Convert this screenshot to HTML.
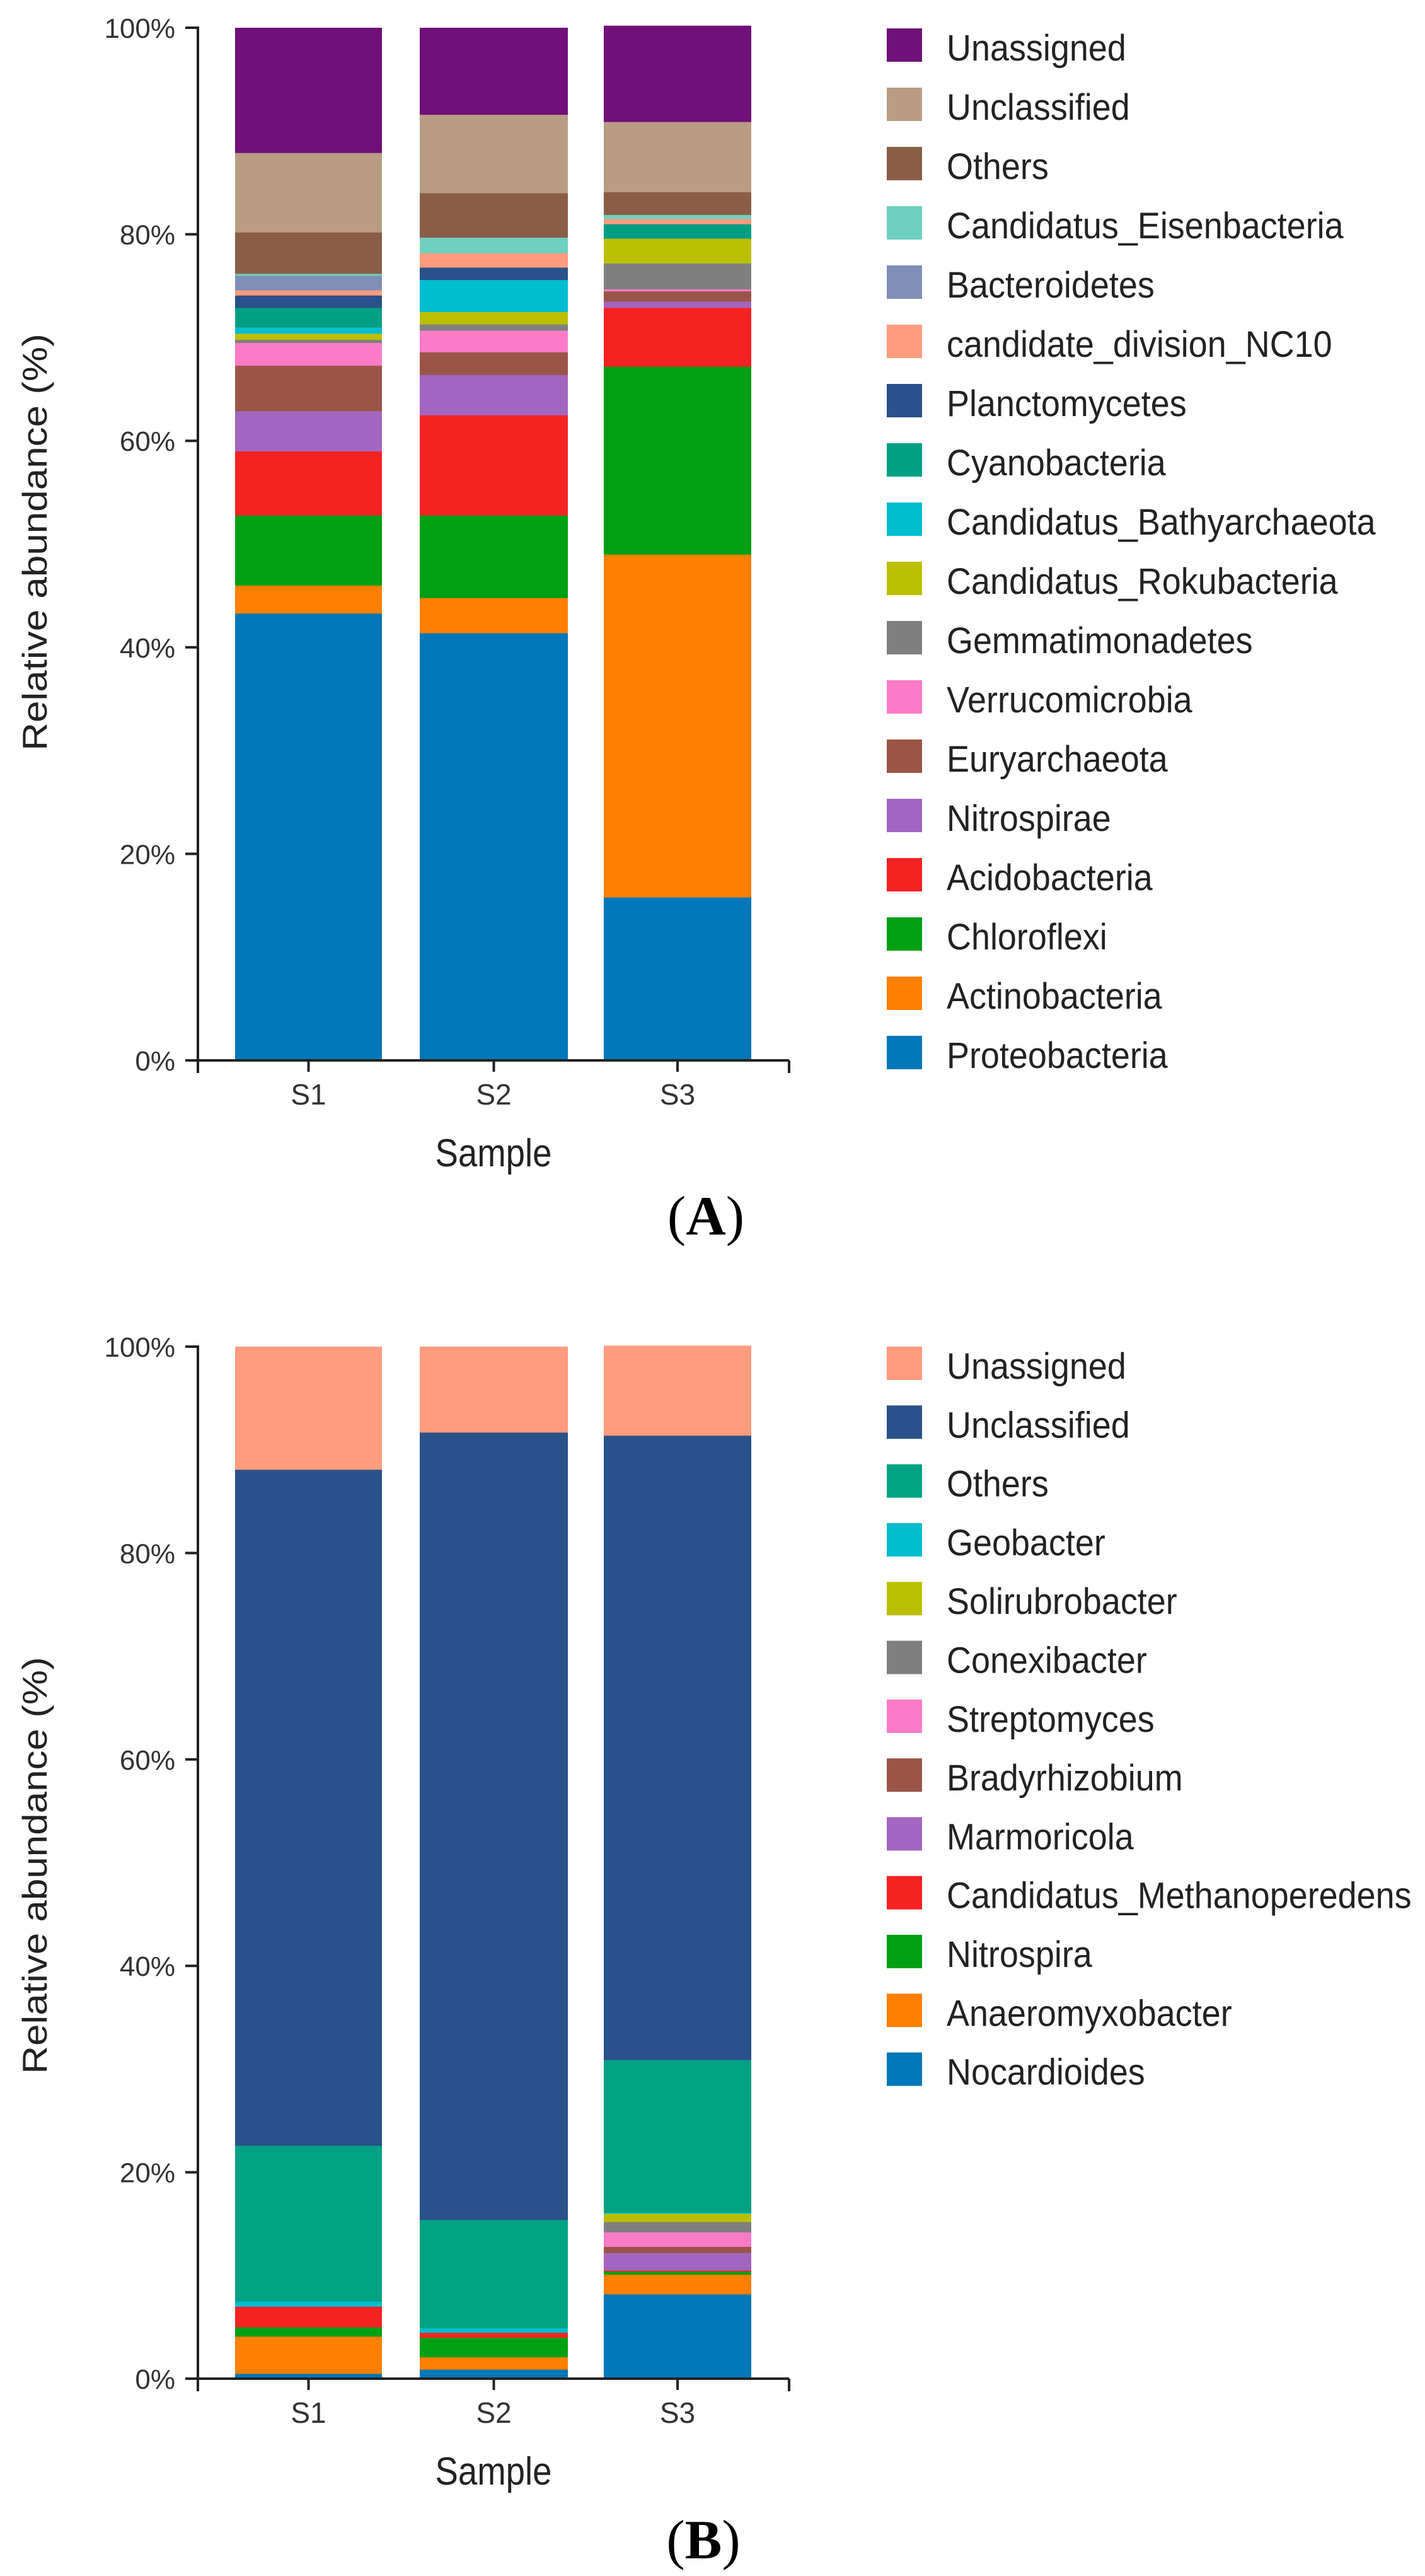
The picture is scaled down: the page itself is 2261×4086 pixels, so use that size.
<!DOCTYPE html>
<html><head><meta charset="utf-8"><style>body{margin:0;background:#fff}svg{display:block}</style></head>
<body>
<svg width="2261" height="4086" viewBox="0 0 2261 4086" xmlns="http://www.w3.org/2000/svg" font-family="Liberation Sans, Arial, sans-serif">
<g id="A"></g>
<g id="B"></g>
<text x="1120" y="1958" font-family="Liberation Serif, serif" font-size="88" text-anchor="middle">(<tspan font-weight="bold">A</tspan>)</text>
<text x="1116" y="4058" font-family="Liberation Serif, serif" font-size="88" text-anchor="middle">(<tspan font-weight="bold">B</tspan>)</text>
</svg>
<script>
(function(){
var NS="http://www.w3.org/2000/svg";
function el(p,t,a,txt){var e=document.createElementNS(NS,t);for(var k in a)e.setAttribute(k,a[k]);if(txt!=null)e.textContent=txt;p.appendChild(e);return e;}
function panel(g,y0,y100,cols,names,bars,legTop,legStep,ytitleY){
  var h=y0-y100, ax=314;
  var xs=[[373,606],[666,901],[958,1192]];
  bars.forEach(function(b,i){
    var prev=0;
    b.forEach(function(v,j){
      if(v>prev){
        var yt=y0-v/100*h, yb=y0-prev/100*h;
        el(g,'rect',{x:xs[i][0],y:yt,width:xs[i][1]-xs[i][0],height:yb-yt+0.5,fill:cols[j]});
      }
      prev=Math.max(prev,v);
    });
  });
  el(g,'line',{x1:ax,y1:y100-2,x2:ax,y2:y0+20,stroke:'#222','stroke-width':4});
  el(g,'line',{x1:ax-2,y1:y0,x2:1252,y2:y0,stroke:'#222','stroke-width':4});
  el(g,'line',{x1:1252,y1:y0,x2:1252,y2:y0+20,stroke:'#222','stroke-width':4});
  for(var k=0;k<=5;k++){
    var y=y0-k/5*h;
    el(g,'line',{x1:ax-20,y1:y,x2:ax,y2:y,stroke:'#222','stroke-width':4});
    el(g,'text',{x:278,y:y+16,'font-size':44,'text-anchor':'end',fill:'#333'},(k*20)+'%');
  }
  ['S1','S2','S3'].forEach(function(s,i){
    var cx=(xs[i][0]+xs[i][1])/2;
    el(g,'line',{x1:cx,y1:y0,x2:cx,y2:y0+18,stroke:'#222','stroke-width':4});
    el(g,'text',{x:cx,y:y0+70,'font-size':46,'text-anchor':'middle',fill:'#333'},s);
  });
  el(g,'text',{x:0,y:0,'font-size':62,'text-anchor':'middle',fill:'#222',transform:'translate(783,'+(y0+168)+') scale(0.88,1)'},'Sample');
  el(g,'text',{x:0,y:0,'font-size':62,'text-anchor':'middle',fill:'#222',transform:'translate(74,'+ytitleY+') rotate(-90) scale(1,0.88)'},'Relative abundance (%)');
  for(var n=0;n<names.length;n++){
    var ci=names.length-1-n;
    var ty=legTop+n*legStep;
    el(g,'rect',{x:1407,y:ty,width:56,height:53,fill:cols[ci]});
    el(g,'text',{x:0,y:0,'font-size':58,fill:'#222',transform:'translate(1502,'+(ty+51)+') scale(0.93,1)'},names[n]);
  }
}
var colsA=['#0077b8','#ff7f00','#00a014','#f52222','#a366c0','#9b5548','#fb7bc7','#7f7f7f','#bcbf00','#00bdd0','#009f83','#2a5189','#ff9b7e','#7f8fb8','#6fd0bd','#8a5e46','#b89d84','#701078'];
var namesA=['Unassigned','Unclassified','Others','Candidatus_Eisenbacteria','Bacteroidetes','candidate_division_NC10','Planctomycetes','Cyanobacteria','Candidatus_Bathyarchaeota','Candidatus_Rokubacteria','Gemmatimonadetes','Verrucomicrobia','Euryarchaeota','Nitrospirae','Acidobacteria','Chloroflexi','Actinobacteria','Proteobacteria'];
var barsA=[
[43.3,46.0,52.8,59.0,62.9,67.3,69.5,69.8,70.4,71.0,72.9,74.1,74.6,76.0,76.2,80.2,87.9,100],
[41.4,44.8,52.8,62.5,66.4,68.6,70.7,71.3,72.5,75.6,75.6,76.8,78.2,78.2,79.7,84.0,91.6,100],
[15.8,49.0,67.2,72.9,73.5,74.5,74.7,77.2,79.6,79.6,81.0,81.0,81.5,81.5,81.9,84.1,90.9,100.2]];
panel(document.getElementById('A'),1682,44,colsA,namesA,barsA,45,94,860);
var colsB=['#0077b8','#ff7f00','#00a014','#f52222','#a366c0','#9b5548','#fb7bc7','#7f7f7f','#bcbf00','#00bdd0','#00a283','#2a5189','#ff9b7e'];
var namesB=['Unassigned','Unclassified','Others','Geobacter','Solirubrobacter','Conexibacter','Streptomyces','Bradyrhizobium','Marmoricola','Candidatus_Methanoperedens','Nitrospira','Anaeromyxobacter','Nocardioides'];
var barsB=[
[0.5,4.1,5.0,7.0,7.0,7.0,7.0,7.0,7.0,7.5,22.6,88.1,100],
[0.9,2.1,4.0,4.4,4.4,4.5,4.5,4.5,4.5,4.9,15.4,91.7,100],
[8.2,10.1,10.4,10.5,12.2,12.8,14.2,15.2,16.0,16.1,30.9,91.4,100.1]];
panel(document.getElementById('B'),3773,2136,colsB,namesB,barsB,2136,93.3,2959);
})();
</script>
</body></html>
